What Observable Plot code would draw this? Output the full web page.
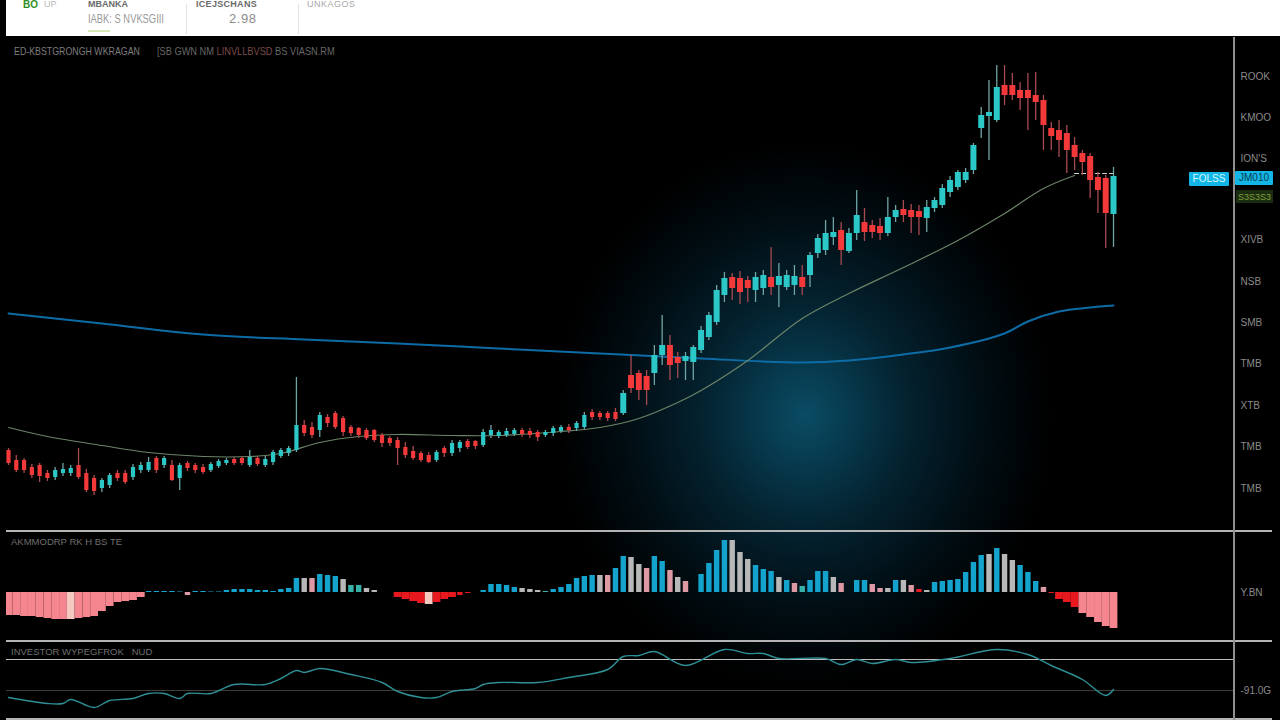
<!DOCTYPE html>
<html>
<head>
<meta charset="utf-8">
<script src="https://cdn.jsdelivr.net/npm/d3@7"></script>
<script src="https://cdn.jsdelivr.net/npm/@observablehq/plot@0.6"></script>
<style>
html,body{margin:0;padding:0;background:#000;overflow:hidden}
#stage{position:relative;width:1280px;height:720px;overflow:hidden;background:
  radial-gradient(ellipse 245px 270px at 805px 415px,#0a4c64 0%,#073a4e 18%,#04222f 42%,#010e14 72%,#000 100%);
  font-family:"Liberation Sans","DejaVu Sans",sans-serif}
#stage>*{position:absolute}
.panel{left:0;width:1280px}
.panel svg{display:block}
#head{left:6px;top:0;width:1274px;height:36px;background:#fff}
.t{white-space:nowrap;line-height:1;transform-origin:left center}
.hr{left:6px;width:1266px;height:1.5px;background:#b4b4b4}
.vr{top:4px;width:1px;height:30px;background:#e3e3e3}
.tag{font-size:10px;text-align:center;line-height:14px;height:14px}
</style>
</head>
<body>
<div id="stage">
  <div id="p1" class="panel" style="top:37px"></div>
  <div id="p2" class="panel" style="top:530px"></div>
  <div id="p3" class="panel" style="top:640px"></div>

  <div id="head"></div>
  <div class="t" style="left:23px;top:0;font-size:10px;font-weight:bold;color:#2f8f24">BO</div>
  <div class="t" style="left:44px;top:0;font-size:9px;color:#b9b9b9">UP</div>
  <div class="t" style="left:88px;top:0;font-size:9px;font-weight:bold;color:#6a6a6a">MBANKA</div>
  <div class="t" style="left:88px;top:13px;font-size:12px;color:#9a9a9a;transform:scaleX(.78)">IABK: S NVKSGIII</div>
  <div style="left:88px;top:30px;width:22px;height:2px;background:#d6e8b4"></div>
  <div class="vr" style="left:186px"></div>
  <div class="t" style="left:196px;top:0;font-size:9px;font-weight:bold;color:#6a6a6a;letter-spacing:.3px">ICEJSCHANS</div>
  <div class="t" style="left:229px;top:12px;font-size:13px;color:#8c8c8c;letter-spacing:.6px">2.98</div>
  <div class="vr" style="left:298px"></div>
  <div class="t" style="left:307px;top:0;font-size:9px;color:#a8a8a8;letter-spacing:.5px">UNKAGOS</div>

  <div class="t" style="left:14px;top:46px;font-size:10.5px;color:#7c7c7c;transform:scaleX(.84)">ED-KBSTGRONGH WKRAGAN</div>
  <div class="t" style="left:157px;top:46px;font-size:10.5px;color:#666;transform:scaleX(.88)">[SB GWN NM <span style="color:#7a4a4a">LINVLLBVSD</span> BS VIASN.RM</div>
  <div class="t" style="left:11px;top:537px;font-size:9.5px;color:#6f6f6f">AKMMODRP RK H BS TE</div>
  <div class="t" style="left:11px;top:647px;font-size:9.5px;color:#6f6f6f">INVESTOR WYPEGFROK &nbsp; NUD</div>

  <div class="hr" style="top:530px"></div>
  <div class="hr" style="top:640px"></div>
  <div class="hr" style="top:718px"></div>
  <div style="left:1233px;top:37px;width:1.5px;height:683px;background:#8f8f8f"></div>

  <div class="tag" style="left:1189px;top:172px;width:40px;background:#12b6e6;color:#d8f6ff;border-radius:1px">FOLSS</div>
  <div class="tag" style="left:1235px;top:171px;width:38px;background:#12b6e6;color:#063a4c;border-radius:1px">JM010</div>
  <div class="tag" style="left:1236px;top:190px;width:37px;height:13px;background:#1c2c10;color:#7fa03a;font-size:9px">S3S3S3</div>
</div>

<script>
// Candles: one row per session, in price units of the main panel
const openPrice = [80,70,70,63,65,57,53,57,57,65,57,52,42,45,57,57,53,60,60,72,65,65,52,67,65,63,60,64,67,71,72,65,72,65,68,74,77,80,105,103,100,113,117,112,103,102,100,100,95,92,90,83,79,77,75,70,82,77,82,89,89,85,95,94,95,96,100,99,98,95,97,99,103,102,103,118,117,117,118,117,155,157,154,157,175,185,173,169,168,180,193,208,235,253,252,250,240,242,253,245,243,245,253,255,277,280,293,300,279,297,308,305,304,297,313,321,320,319,312,322,325,338,343,350,360,402,414,410,445,445,440,440,435,430,402,400,397,385,377,374,353,352,316];
const closePrice = [67,60,60,55,54,52,60,61,62,53,40,39,50,55,52,48,63,65,68,60,72,50,65,62,60,58,66,69,70,67,67,73,66,71,78,80,82,105,97,95,115,107,103,98,97,95,92,90,87,87,82,75,72,70,68,78,77,87,88,83,84,98,100,98,99,100,96,95,93,98,102,103,100,107,115,113,113,112,111,137,142,140,140,175,185,165,167,174,183,200,215,240,252,242,238,242,253,255,243,254,255,254,243,275,292,297,298,280,297,315,298,298,297,313,320,315,313,313,323,330,342,350,358,358,385,415,418,443,435,435,432,432,428,405,394,390,380,373,368,350,340,317,354];
const highPrice = [82,75,72,66,67,60,63,67,65,82,61,55,52,57,60,60,66,68,73,74,74,70,67,69,67,66,68,71,72,73,74,80,74,74,80,82,84,153,110,108,118,116,119,114,105,103,102,101,97,94,93,88,84,79,78,80,84,90,90,91,90,101,105,100,102,102,102,102,100,100,104,105,106,109,118,121,119,119,122,140,175,160,160,185,215,195,178,178,185,204,218,245,258,257,259,254,258,260,283,267,260,265,265,278,296,310,313,308,302,340,322,310,312,333,325,330,326,325,330,333,346,354,360,362,387,423,450,465,465,457,448,457,458,435,408,410,405,393,380,377,358,355,363];
const lowPrice = [65,58,57,52,48,49,50,54,54,51,38,35,38,42,49,46,50,57,58,57,62,49,40,59,57,56,58,62,65,65,65,63,64,63,65,72,74,78,94,92,93,103,101,94,94,92,90,88,83,84,65,72,70,68,67,68,73,74,78,81,81,83,92,92,93,94,93,92,89,93,94,97,97,99,101,110,110,109,109,115,137,130,125,145,165,150,152,150,150,177,190,205,228,230,226,228,228,235,235,223,240,235,235,243,272,275,285,265,277,290,289,292,290,294,308,308,297,295,298,318,322,333,340,347,356,392,370,408,425,430,420,400,410,380,380,373,357,360,355,332,317,282,283];

// Moving averages sampled at given sessions
const slowDay = [0,12,25,38,50,63,76,89,102,108,115,121,128,131,135,139,142];
const slowAvg = [217,207,196,191,187,182,177,172,168,170,176,183,197,209,219,223,225];
const fastDay = [0,5,12,18,25,31,35,40,45,50,57,63,71,76,81,86,89,95,102,108,115,122,128,133,137];
const fastAvg = [103,94,85,78,74,74,77,88,94,96,95,95,99,103,112,128,140,170,212,237,263,290,317,342,355];
const lastDay = [137,142];
const lastLevel = [357,357];

// Histogram, one value per session
const macdHist = [-23,-23,-24,-24,-25,-26,-27,-27,-27,-26,-25,-24,-19,-14,-10,-9,-8,-5,1,1,1,
  1,0.5,-3,1,1,0.5,0.5,2,3,3,3,2,2,1,3,4,
  14,14,14,18,17,16,13,7,7,4,2,0,0,
  -5,-7,-9,-11,-12,-10,-7,-5,-3,-1,0,
  2,8,8,7,5,4,3,2,1,3,5,8,14,16,17,17,17,24,36,35,28,24,36,31,22,15,11,0,
  18,29,42,52,52,40,33,27,23,21,15,12,9,6,12,21,21,15,9,0,
  12,12,8,4,4,12,12,7,3,2,10,11,12,13,20,30,37,38,44,38,32,27,20,11,5,-1,-7,-10,-15,-21,-25,-30,-34,-36];
const macdTone = ["ppppppppwppppppppp","bbbbb","s","bbbbbbbbbbbbb","bgs","bbb","g","tt","gg","bb","rrrr","w","rrrrr","b","bbbbb","ggg","t","bbbbbb","g","s","bb","gg","s","bb","s","g","s","bbbbb","ggg","bbb","g","b","s","t","bbb","g","s","bbb","ss","g","b","g","s","r","g","bbbbbbb","g","b","gg","bbb","s","rrrr","ppppp"].join("");
const toneColor = {p:"#f5868f",w:"#f5c8c0",s:"#dd9aa5",r:"#e8181f",b:"#14a3cc",g:"#b8b8b8",t:"#36b3a8"};

// Oscillator
const oscDay = [0,5,7,8,11,13,16,18,20,22,23,26,29,33,35,37,38,40,44,48,50,53,55,57,60,61,63,68,72,77,79,81,83,87,92,95,97,99,105,107,109,111,114,116,121,127,131,134,138,141,142];
const oscVal = [-7,-13,-13,-9,-17,-10,-8,-3,-3,-8,-3,-3,6,6,12,20,18,22,16,8,-1,-7,-7,-1,2,6,8,8,13,21,34,35,39,25,41,37,37,32,32,26,31,27,31,28,32,41,36,25,11,-5,1];
const oscLevels = [31,0];

// Axis labels
const priceTicks = [454,413,372,291,249,208,167,125,84,42];
const priceLabels = ["ROOK","KMOO","ION'S","XIVB","NSB","SMB","TMB","XTB","TMB","TMB"];
const macdTicks = [0];
const macdLabels = ["Y.BN"];
const oscTicks = [0];
const oscLabels = ["-91.0G"];

const UP = "#2cc8c8", DOWN = "#f4393a", UPW = "#6fa5a5", DOWNW = "#a84a52";

const sessions = openPrice.map((o,i)=>({i,o,c:closePrice[i],h:highPrice[i],l:lowPrice[i],up:closePrice[i]>=o}));
const hist = macdHist.map((v,i)=>({i,v,tone:toneColor[macdTone[i]]}));
const zip = (xs,ys)=>xs.map((d,i)=>({d,v:ys[i]}));

const xScale = {domain:[0,sessions.length-1],range:[8,1113],axis:null};
const base = {width:1280,marginLeft:6,marginRight:47,marginTop:0,marginBottom:0,
  style:{background:"transparent",overflow:"visible"}};
const axis = (ticks,labels)=>Plot.axisY(ticks,{anchor:"right",tickSize:0,tickPadding:7,label:null,
  tickFormat:(d)=>labels[ticks.indexOf(d)],color:"#8a8a8a",fontSize:10,
  fontFamily:"'Liberation Sans','DejaVu Sans',sans-serif"});

document.getElementById("p1").append(Plot.plot({...base,height:493,
  x:xScale,y:{domain:[0,493],axis:null},
  marks:[
    Plot.line(zip(slowDay,slowAvg),{x:"d",y:"v",stroke:"#0d6ca6",strokeWidth:2,curve:"catmull-rom"}),
    Plot.line(zip(fastDay,fastAvg),{x:"d",y:"v",stroke:"#6c8468",strokeWidth:1.2,curve:"catmull-rom"}),
    Plot.line(zip(lastDay,lastLevel),{x:"d",y:"v",stroke:"#d8d8d8",strokeWidth:1.2,strokeDasharray:"4 3"}),
    Plot.ruleX(sessions,{x:"i",y1:"l",y2:"h",stroke:d=>d.up?UPW:DOWNW,strokeWidth:1.3}),
    Plot.ruleX(sessions,{x:"i",y1:"o",y2:"c",stroke:d=>d.up?UP:DOWN,strokeWidth:d=>d.i<79?4.2:6}),
    axis(priceTicks,priceLabels)
  ]}));

document.getElementById("p2").append(Plot.plot({...base,height:110,
  x:xScale,y:{domain:[-48,62],axis:null},
  marks:[
    Plot.ruleX(hist,{x:"i",y1:0,y2:"v",stroke:"tone",strokeWidth:d=>d.v<-4?7.8:5.4,clip:true}),
    axis(macdTicks,macdLabels)
  ]}));

document.getElementById("p3").append(Plot.plot({...base,height:80,
  x:xScale,y:{domain:[-30,50],axis:null},
  marks:[
    Plot.ruleY(oscLevels,{stroke:d=>d>0?"#bdbdbd":"#3c3c3c",strokeWidth:1.2}),
    Plot.line(zip(oscDay,oscVal),{x:"d",y:"v",stroke:"#2f8f96",strokeWidth:1.4,curve:"catmull-rom"}),
    axis(oscTicks,oscLabels)
  ]}));
</script>
</body>
</html>
